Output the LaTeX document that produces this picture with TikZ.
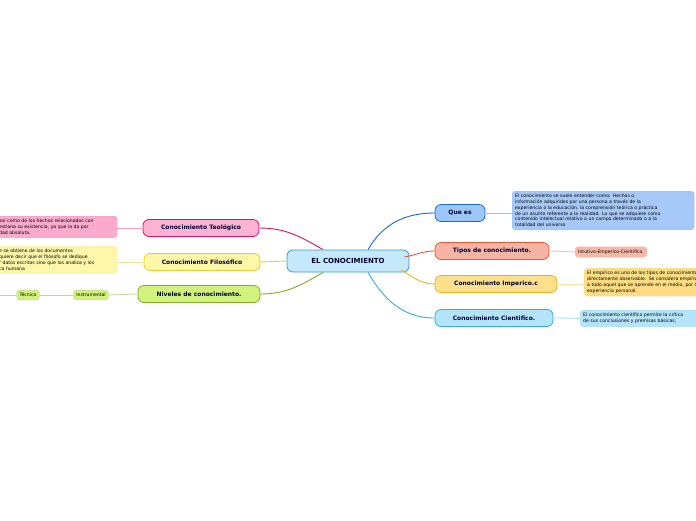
\documentclass[tikz,border=0pt]{standalone}
\usepackage{fontspec}
\setmainfont{DejaVu Sans}
\begin{document}
\begin{tikzpicture}[x=1pt,y=-1pt,
 main/.style={draw,rounded corners=6pt,line width=0.8pt,minimum height=17pt,font=\fontsize{6}{7}\selectfont\bfseries,text=black!80!blue},
 desc/.style={rounded corners=3pt,font=\fontsize{4.6}{5.8}\selectfont,align=left,inner sep=3pt,anchor=north west},
 conn/.style={line width=0.9pt}]
\useasboundingbox (0,0) rectangle (696,520);
\clip (0,0) rectangle (696,520);
\fill[white] (0,0) rectangle (696,520);
\definecolor{cA}{HTML}{1A6AD8}\definecolor{cB}{HTML}{E85A3A}\definecolor{cC}{HTML}{F0B020}
\definecolor{cD}{HTML}{30AEE0}\definecolor{cE}{HTML}{E0106A}\definecolor{cF}{HTML}{E8D020}\definecolor{cG}{HTML}{80B020}
\node[main,fill={rgb,255:red,198;green,232;blue,251},draw={rgb,255:red,51;green,153;blue,204},minimum width=122pt,minimum height=22pt,font=\fontsize{7}{8}\selectfont\bfseries] (c) at (348,261) {EL CONOCIMIENTO};
\node[main,fill={rgb,255:red,156;green,198;blue,247},draw=cA,minimum width=50pt] (q) at (460,213) {Que es};
\node[main,fill={rgb,255:red,247;green,180;blue,164},draw=cB,minimum width=114pt] (t) at (492,251) {Tipos de conocimiento.};
\node[main,fill={rgb,255:red,253;green,224;blue,140},draw=cC,minimum width=122pt] (i) at (496,284) {Conocimiento Imperico.c};
\node[main,fill={rgb,255:red,179;green,228;blue,249},draw=cD,minimum width=118pt] (s) at (494,318) {Conocimiento Cientifico.};
\node[main,fill={rgb,255:red,252;green,179;blue,211},draw=cE,minimum width=116pt] (te) at (201,228) {Conocimiento Teológico};
\node[main,fill={rgb,255:red,254;green,246;blue,168},draw=cF,minimum width=116pt] (f) at (202,262) {Conocimiento Filosófico};
\node[main,fill={rgb,255:red,209;green,242;blue,124},draw=cG,minimum width=122pt] (n) at (199,294) {Niveles de conocimiento.};
\draw[conn,cA] (c.north) ++(20,0) coordinate (c1) to[out=60,in=180] (q.west);
\draw[conn,cB] (c.east) ++(-5,-4) coordinate (c2) to[out=10,in=180] (t.west);
\draw[conn,cC] (c.east) ++(-8,9) coordinate (c3) to[out=-30,in=180] (i.west);
\draw[conn,cD] (c.south) ++(20,0) coordinate (c4) to[out=-60,in=180] (s.west);
\draw[conn,cE] (c.north) ++(-25,0) coordinate (c5) to[out=150,in=0] (te.east);
\draw[conn,cF] (c.west) to (f.east);
\draw[conn,cG] (c.south) ++(-25,0) coordinate (c6) to[out=-150,in=0] (n.east);
% descriptions
\node[desc,fill={rgb,255:red,166;green,200;blue,248},draw=cA!40,text width=176pt] (qd) at (512,191) {El conocimiento se suele entender como: Hechos o\\información adquiridos por una persona a través de la\\experiencia o la educación, la comprensión teórica o práctica\\de un asunto referente a la realidad. Lo que se adquiere como\\contenido intelectual relativo a un campo determinado o a la\\totalidad del universo};
\node[desc,fill={rgb,255:red,248;green,184;blue,168},draw=cB!40,anchor=west] (td) at (575,252) {Intutivo-Emperico-Cientifico.};
\node[desc,fill={rgb,255:red,253;green,220;blue,130},draw=cC!40,text width=150pt] (id) at (584,268) {El empírico es uno de los tipos de conocimiento\\directamente observable. Se considera empírico\\a todo aquel que se aprende en el medio, por la\\experiencia personal.};
\node[desc,fill={rgb,255:red,179;green,228;blue,249},draw=cD!40,text width=150pt] (sd) at (580,310) {El conocimiento científico permite la crítica\\de sus conclusiones y premisas básicas,};
\node[desc,fill={rgb,255:red,250;green,170;blue,205},draw=cE!40,text width=115pt] (ted) at (-4,216) {así como de los hechos relacionados con\\estiona su existencia, ya que la da por\\dad absoluta.};
\node[desc,fill={rgb,255:red,254;green,246;blue,168},draw=cF!40,text width=115pt] (fd) at (-4,246) {e se obtiene de los documentos\\quiere decir que el filósofo se dedique\\r datos escritos sino que los analiza y los\\ca humana};
\node[desc,fill={rgb,255:red,209;green,242;blue,124},draw=cG!50,anchor=center] (ins) at (91,295) {Instrumental};
\node[desc,fill={rgb,255:red,209;green,242;blue,124},draw=cG!50,anchor=center] (tec) at (28,295) {Técnico};
\coordinate (lend) at (0,295);
\draw[cA!40,line width=0.8pt] (q.east) -- (qd.west|-q.east);
\draw[cB!40,line width=0.8pt] (t.east) -- (td.west);
\draw[cC!40,line width=0.8pt] (i.east) -- (id.west|-i.east);
\draw[cD!40,line width=0.8pt] (s.east) -- (sd.west);
\draw[cE!40,line width=0.8pt] (te.west) -- (ted.east|-te.west);
\draw[cF!50,line width=0.8pt] (f.west) -- (fd.east|-f.west);
\draw[cG!50,line width=0.8pt] (n.west) -- (ins.east);
\draw[cG!50,line width=0.8pt] (ins.west) -- (tec.east);
\draw[cG!50,line width=0.8pt] (tec.west) -- (lend);
\end{tikzpicture}
\end{document}
